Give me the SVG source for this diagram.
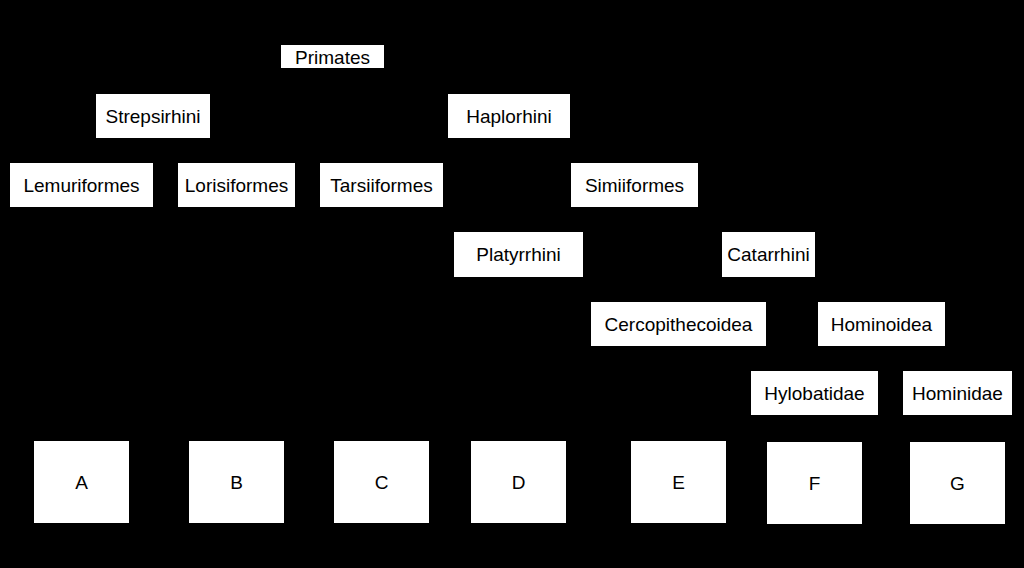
<svg xmlns="http://www.w3.org/2000/svg" width="1024" height="568" viewBox="0 0 1024 568">
<style>
rect{fill:#fff}
text{font-family:"Liberation Sans",Arial,sans-serif;font-size:19px;fill:#000;text-anchor:middle;dominant-baseline:central}
</style>
<rect x="0" y="0" width="1024" height="568" style="fill:#000"/>
<g id="connectors"></g>
<g id="primates"><rect x="281" y="45" width="103" height="23"/><text x="332.5" y="57">Primates</text></g>
<g id="strepsirhini"><rect x="96" y="94" width="114" height="44"/><text x="153" y="116">Strepsirhini</text></g>
<g id="haplorhini"><rect x="448" y="94" width="122" height="44"/><text x="509" y="116">Haplorhini</text></g>
<g id="lemuriformes"><rect x="10" y="163" width="143" height="44"/><text x="81.5" y="185">Lemuriformes</text></g>
<g id="lorisiformes"><rect x="178" y="163" width="117" height="44"/><text x="236.5" y="185">Lorisiformes</text></g>
<g id="tarsiiformes"><rect x="320" y="163" width="123" height="44"/><text x="381.5" y="185">Tarsiiformes</text></g>
<g id="simiiformes"><rect x="571" y="163" width="127" height="44"/><text x="634.5" y="185">Simiiformes</text></g>
<g id="platyrrhini"><rect x="454" y="232" width="129" height="45"/><text x="518.5" y="254">Platyrrhini</text></g>
<g id="catarrhini"><rect x="722" y="232" width="93" height="45"/><text x="768.5" y="254">Catarrhini</text></g>
<g id="cercopithecoidea"><rect x="591" y="302" width="175" height="44"/><text x="678.5" y="324">Cercopithecoidea</text></g>
<g id="hominoidea"><rect x="818" y="302" width="127" height="44"/><text x="881.5" y="324">Hominoidea</text></g>
<g id="hylobatidae"><rect x="751" y="371" width="127" height="44"/><text x="814.5" y="393">Hylobatidae</text></g>
<g id="hominidae"><rect x="903" y="371" width="109" height="44"/><text x="957.5" y="393">Hominidae</text></g>
<g id="A"><rect x="34" y="441" width="95" height="82"/><text x="81.5" y="482">A</text></g>
<g id="B"><rect x="189" y="441" width="95" height="82"/><text x="236.5" y="482">B</text></g>
<g id="C"><rect x="334" y="441" width="95" height="82"/><text x="381.5" y="482">C</text></g>
<g id="D"><rect x="471" y="441" width="95" height="82"/><text x="518.5" y="482">D</text></g>
<g id="E"><rect x="631" y="441" width="95" height="82"/><text x="678.5" y="482">E</text></g>
<g id="F"><rect x="767" y="442" width="95" height="82"/><text x="814.5" y="483">F</text></g>
<g id="G"><rect x="910" y="442" width="95" height="82"/><text x="957.5" y="483">G</text></g>
</svg>
